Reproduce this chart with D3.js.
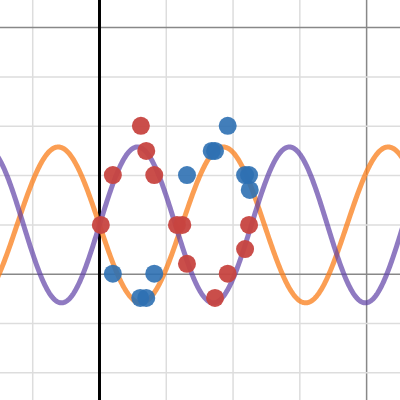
<!DOCTYPE html><html><head><script src="https://cdn.jsdelivr.net/npm/d3@7"></script>
<style>body{margin:0}svg{display:block}</style></head><body><svg id="c" width="400" height="400"></svg>
<script>
const amplitude = 1.58, purplePeriod = 2.275, orangePeriod = 2.47;
const gridX = [-1,0,1,2,3,4], gridY = [-3,-2,-1,0,1,2,3,4];
const darkX = [4], darkY = [4,-1];
const redPts = [[0.62,2.01],[0.70,1.50],[0.20,1.01],[0.82,1.01],[0.02,0],[1.16,0],[1.24,0],[1.31,-0.79],[2.24,0],[2.18,-0.49],[1.92,-0.99],[1.73,-1.48]];
const bluePts = [[1.92,2.01],[1.73,1.50],[1.68,1.50],[1.31,1.01],[2.18,1.01],[2.24,1.01],[2.25,0.71],[0.20,-0.99],[0.82,-0.99],[0.61,-1.48],[0.70,-1.48]];
const svg = d3.select("#c");
const x = d3.scaleLinear().domain([-1.49,4.5]).range([0,400]);
const y = d3.scaleLinear().domain([4.56,-3.55]).range([0,400]);
svg.append("rect").attr("width",400).attr("height",400).attr("fill","#fff");
svg.selectAll(".gx").data(gridX).join("line").attr("x1",d=>x(d)).attr("x2",d=>x(d)).attr("y1",0).attr("y2",400)
 .attr("stroke",d=>darkX.includes(d)?"#888":"#ddd").attr("stroke-width",1.5);
svg.selectAll(".gy").data(gridY).join("line").attr("y1",d=>y(d)).attr("y2",d=>y(d)).attr("x1",0).attr("x2",400)
 .attr("stroke",d=>darkY.includes(d)?"#888":"#ddd").attr("stroke-width",1.5);
svg.append("line").attr("x1",x(0)).attr("x2",x(0)).attr("y1",0).attr("y2",400).attr("stroke","#000").attr("stroke-width",3);
const xs = d3.range(-1.6,4.6,0.01);
const line = d3.line().x(d=>x(d[0])).y(d=>y(d[1]));
svg.append("path").attr("d",line(xs.map(t=>[t,-amplitude*Math.sin(2*Math.PI*t/orangePeriod)])))
 .attr("fill","none").attr("stroke","#fa7e19").attr("stroke-opacity",0.75).attr("stroke-width",5);
svg.append("path").attr("d",line(xs.map(t=>[t,amplitude*Math.sin(2*Math.PI*t/purplePeriod)])))
 .attr("fill","none").attr("stroke","#6042a6").attr("stroke-opacity",0.7).attr("stroke-width",5);
svg.selectAll(".r").data(redPts).join("circle").attr("cx",d=>x(d[0])).attr("cy",d=>y(d[1])).attr("r",9).attr("fill","#c74440").attr("fill-opacity",0.95);
svg.selectAll(".b").data(bluePts).join("circle").attr("cx",d=>x(d[0])).attr("cy",d=>y(d[1])).attr("r",9).attr("fill","#2d70b3").attr("fill-opacity",0.9);
</script></body></html>
